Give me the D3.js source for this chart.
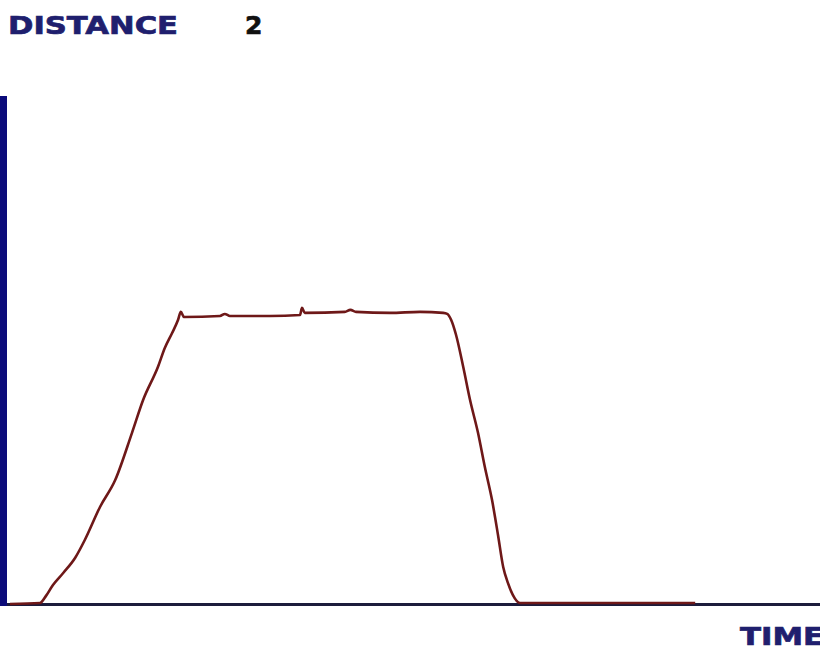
<!DOCTYPE html>
<html>
<head>
<meta charset="utf-8">
<script src="https://cdn.jsdelivr.net/npm/d3@7"></script>
<style>
  body { margin: 0; background: #fff; overflow: hidden; }
  .label { font-family: 'DejaVu Sans', sans-serif; font-weight: bold; font-size: 25px; stroke-width: 0.7px; }
</style>
</head>
<body>
<div id="chart"></div>
<script>
// distance / time trace (time 0..100, distance 0..100)
var times = [0.25, 4, 4.75, 5.6, 6.9, 8.4, 9.6, 11.5, 13.4, 15.5, 16.9, 18.75, 19.6, 20.5, 21.25, 21.6, 22,
  26.5, 27.1, 27.75, 32.75, 36.5, 36.75, 37.1, 42.1, 42.8, 43.5, 47.75, 51.5, 54.4, 54.9, 55.4, 56,
  56.9, 57.75, 58.75, 59.6, 60.5, 61.25, 61.9, 62.5, 63.1, 64, 74, 85.9]
var distances = [0, 0.2, 1.6, 3.7, 6.1, 9.1, 12.6, 19.1, 24.4, 33.7, 40.2, 46.7, 50.4, 53.3, 55.9, 57.5, 56.5,
  56.7, 57.1, 56.7, 56.7, 56.9, 58.3, 57.3, 57.5, 57.9, 57.5, 57.3, 57.5, 57.3, 57.1, 55.9, 53,
  46.7, 40.2, 33.7, 27, 20.5, 13.6, 7.3, 4.1, 1.8, 0.2, 0.2, 0.2]
var yLabel = 'DISTANCE'
var yValue = '2'
var xLabel = 'TIME'

var width = 820
var height = 653

var svg = d3.select('#chart').append('svg')
    .attr('width', width)
    .attr('height', height)

var x = d3.scaleLinear().domain([0, 100]).range([8, 808])
var y = d3.scaleLinear().domain([0, 100]).range([604, 96])

var points = times.map(function (t, i) { return [t, distances[i]] })

//axe des x
svg.append('line')
    .attr('x1', 0).attr('x2', width)
    .attr('y1', y(0) + 0.5).attr('y2', y(0) + 0.5)
    .attr('stroke', '#1c1c3c')
    .attr('stroke-width', 3)

//axe des y (barre épaisse)
svg.append('rect')
    .attr('x', 0)
    .attr('y', y(100))
    .attr('width', 7)
    .attr('height', y(0) - y(100) + 2)
    .attr('fill', '#0b0b7a')

var line = d3.line()
    .x(function (d) { return x(d[0]) })
    .y(function (d) { return y(d[1]) })
    .curve(d3.curveMonotoneX)

svg.append('path')
    .datum(points)
    .attr('fill', 'none')
    .attr('stroke', '#6e1818')
    .attr('stroke-width', 2.6)
    .attr('stroke-linejoin', 'round')
    .attr('d', line)

svg.append('text')
    .attr('class', 'label')
    .attr('x', 8).attr('y', 34)
    .attr('fill', '#1f1f6e')
    .attr('stroke', '#1f1f6e')
    .attr('textLength', 170)
    .attr('lengthAdjust', 'spacingAndGlyphs')
    .text(yLabel)

svg.append('text')
    .attr('class', 'label')
    .attr('x', 245).attr('y', 34)
    .attr('fill', '#111')
    .attr('stroke', '#111')
    .text(yValue)

svg.append('text')
    .attr('class', 'label')
    .attr('x', 740).attr('y', 645)
    .attr('fill', '#1f1f6e')
    .attr('stroke', '#1f1f6e')
    .attr('textLength', 84)
    .attr('lengthAdjust', 'spacingAndGlyphs')
    .text(xLabel)
</script>
</body>
</html>
